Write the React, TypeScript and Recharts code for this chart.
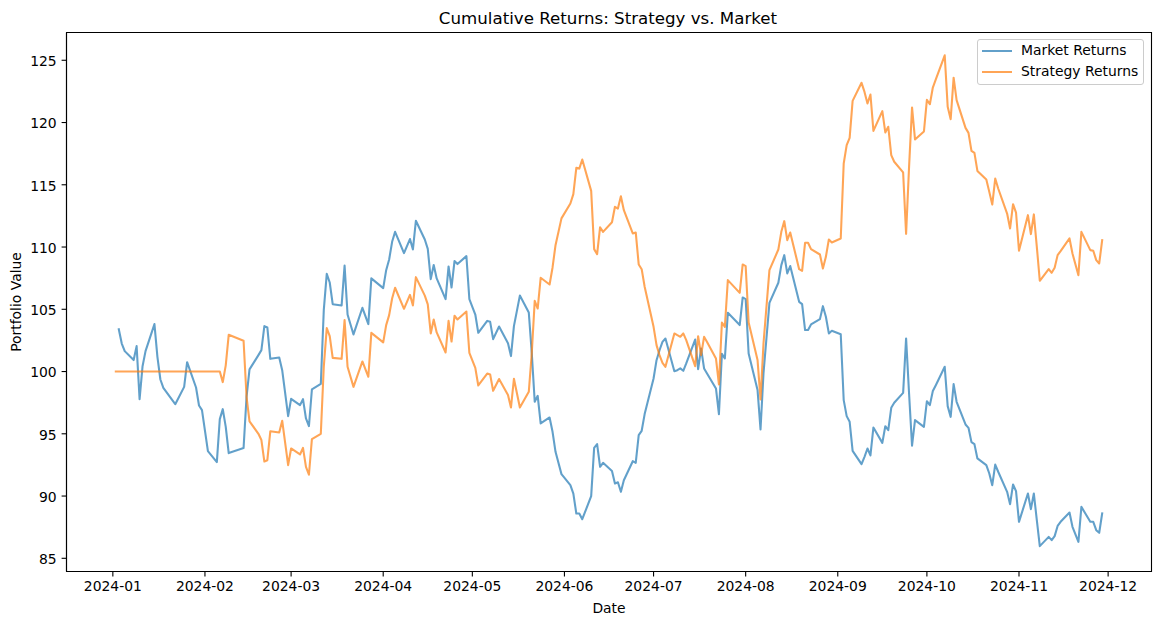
import { LineChart, Line, XAxis, YAxis, Legend, Label, ReferenceArea } from "recharts";

// days since 2024-01-01
const tradingDays = [
  1, 2, 3, 4, 7, 8, 9, 10, 11, 14,
  15, 16, 17, 21, 22, 24, 25, 28, 29, 30,
  32, 35, 36, 37, 38, 39, 44, 45, 46, 49,
  50, 51, 52, 53, 56, 57, 59, 60, 63, 64,
  65, 66, 67, 70, 71, 72, 73, 74, 77, 78,
  79, 81, 84, 86, 87, 91, 92, 93, 94, 95,
  98, 100, 101, 102, 105, 106, 107, 108, 109, 112,
  113, 114, 115, 116, 119, 120, 122, 123, 126, 127,
  128, 130, 133, 134, 135, 137, 140, 141, 142, 143,
  144, 147, 148, 149, 151, 154, 155, 156, 157, 158,
  161, 162, 163, 164, 165, 168, 169, 170, 171, 172,
  175, 176, 177, 178, 179, 182, 183, 184, 185, 186,
  189, 190, 191, 192, 193, 196, 197, 198, 199, 200,
  203, 204, 205, 206, 207, 211, 212, 213, 214, 217,
  218, 219, 221, 224, 225, 226, 227, 228, 231, 232,
  233, 234, 235, 238, 239, 240, 241, 242, 245, 246,
  247, 248, 249, 252, 253, 254, 255, 256, 259, 260,
  261, 262, 263, 266, 267, 268, 269, 270, 273, 274,
  275, 276, 277, 280, 281, 282, 283, 284, 287, 288,
  289, 290, 291, 294, 295, 296, 297, 298, 301, 302,
  303, 304, 305, 308, 309, 310, 311, 312, 315, 316,
  317, 318, 319, 322, 323, 325, 326, 329, 330, 331,
  332, 333,
];

const marketReturns = [
  null, 103.4, 102.25, 101.64, 100.92, 102.04, 97.78, 100.43, 101.64, 103.81,
  101.18, 99.36, 98.69, 97.38, 97.84, 98.77, 100.75, 98.72, 97.27, 96.9,
  93.61, 92.73, 96.18, 96.98, 95.56, 93.45, 93.85, 97.97, 100.17, 101.32,
  101.72, 103.65, 103.54, 101.02, 101.13, 100.11, 96.42, 97.81, 97.3, 97.78,
  96.23, 95.62, 98.56, 99.0, 104.93, 107.85, 107.15, 105.41, 105.31, 108.52,
  104.58, 102.98, 105.12, 103.81, 107.48, 106.7, 108.14, 109.0, 110.42, 111.22,
  109.51, 110.64, 109.81, 112.11, 110.6, 109.85, 107.42, 108.55, 107.48, 105.82,
  108.44, 106.75, 108.87, 108.63, 109.27, 105.82, 104.58, 103.11, 104.07, 103.99,
  102.6, 103.62, 102.28, 101.24, 103.65, 106.1, 104.74, 101.5, 97.57, 98.05,
  95.83, 96.31, 95.16, 93.55, 91.76, 90.87, 90.2, 88.6, 88.6, 88.14,
  89.99, 93.87, 94.17, 92.35, 92.67, 92.02, 91.0, 91.11, 90.34, 91.27,
  92.8, 92.67, 94.89, 95.24, 96.58, 99.44, 100.91, 101.71, 102.38, 102.65,
  100.03, 100.11, 100.25, 100.06, 100.65, 102.57, 100.19, 101.85, 100.25, 99.84,
  98.64, 96.58, 101.42, 101.05, 104.72, 103.73, 105.95, 105.82, 101.45, 98.51,
  95.35, 99.84, 105.52, 107.13, 108.55, 109.35, 107.88, 108.47, 105.6, 105.41,
  103.33, 103.33, 103.78, 104.21, 105.25, 104.4, 103.06, 103.27, 103.0, 97.7,
  96.42, 95.96, 93.63, 92.56, 93.15, 93.82, 93.26, 95.51, 94.27, 95.61,
  95.29, 97.09, 97.49, 98.29, 102.66, 98.24, 94.04, 96.1, 95.56, 97.62,
  97.3, 98.43, 98.9, 100.38, 97.22, 96.36, 98.99, 97.57, 95.75, 95.48,
  94.33, 94.17, 93.02, 92.48, 91.81, 90.87, 92.53, 91.95, 90.34, 89.35,
  90.93, 90.39, 87.93, 90.2, 88.95, 90.2, 88.07, 85.98, 86.72, 86.46,
  86.78, 87.6, 87.93, 88.68, 87.53, 86.32, 89.13, 87.93, 87.93, 87.26,
  87.05, 88.6,
];

const strategyReturns = [
  100, 100, 100, 100, 100, 100, 100, 100, 100, 100,
  100, 100, 100, 100, 100, 100, 100, 100, 100, 100,
  100, 100, 100, 99.15, 100.5, 102.95, 102.47, 97.97, 96.0, 95.0,
  94.5, 92.77, 92.88, 95.2, 95.1, 96.05, 92.48, 93.82, 93.34, 93.87,
  92.35, 91.71, 94.57, 95.0, 100.38, 103.49, 102.84, 101.1, 101.02, 104.13,
  100.38, 98.77, 100.81, 99.58, 103.11, 102.34, 103.73, 104.53, 105.87, 106.73,
  105.04, 106.16, 105.31, 107.58, 106.1, 105.39, 103.06, 104.18, 103.14, 101.53,
  104.07, 102.41, 104.48, 104.18, 104.82, 101.5, 100.3, 98.88, 99.84, 99.76,
  98.45, 99.4, 98.12, 97.11, 99.42, 97.11, 98.37, 101.45, 105.68, 105.06,
  107.53, 106.99, 108.36, 110.15, 112.3, 113.5, 114.25, 116.36, 116.3, 117.03,
  114.51, 109.83, 109.43, 111.59, 111.22, 111.99, 113.23, 113.09, 114.08, 112.96,
  111.09, 111.17, 108.6, 108.22, 106.81, 103.59, 102.12, 101.32, 100.7, 100.38,
  103.06, 102.92, 102.79, 103.06, 102.52, 100.43, 102.84, 101.32, 102.79, 102.38,
  101.05, 98.97, 103.94, 103.59, 107.34, 106.32, 108.6, 108.47, 103.94, 100.92,
  97.76, 102.25, 108.14, 109.8, 111.22, 112.08, 110.55, 111.17, 108.22, 108.09,
  110.34, 110.34, 109.83, 109.4, 108.28, 109.21, 110.61, 110.37, 110.68, 116.71,
  118.18, 118.77, 121.74, 123.19, 122.46, 121.53, 122.25, 119.33, 120.91, 119.2,
  119.66, 117.38, 116.85, 115.99, 111.06, 116.44, 121.21, 118.64, 119.28, 121.82,
  121.47, 122.81, 123.46, 125.4, 121.26, 120.27, 123.6, 121.8, 119.57, 119.17,
  117.72, 117.56, 116.11, 115.42, 114.43, 113.41, 115.5, 114.7, 112.69, 111.49,
  113.44, 112.77, 109.7, 112.56, 111.04, 112.62, 110.02, 107.29, 108.23, 107.93,
  108.33, 109.35, 109.67, 110.69, 109.48, 107.74, 111.22, 109.75, 109.7, 108.95,
  108.68, 110.55,
];

const monthTicks = [0, 31, 60, 91, 121, 152, 182, 213, 244, 274, 305, 335];
const monthLabels = [
  "2024-01", "2024-02", "2024-03", "2024-04", "2024-05", "2024-06",
  "2024-07", "2024-08", "2024-09", "2024-10", "2024-11", "2024-12",
];
const valueTicks = [85, 90, 95, 100, 105, 110, 115, 120, 125];

const xDomain = [-15.6, 349.6];
const yDomain = [83.94, 127.23];

const FONT = "DejaVu Sans";

const data = tradingDays.map((day, i) => ({
  day,
  market: marketReturns[i],
  strategy: strategyReturns[i],
}));

const tickStyle = { fill: "#000", fontSize: 13.9, fontFamily: FONT };

const LegendBox = ({ payload }: any) => (
  <div
    style={{
      boxSizing: "border-box",
      width: 167,
      height: 46,
      padding: "1px 0 0 4px",
      border: "1px solid #ccc",
      borderRadius: 3,
      background: "rgba(255,255,255,0.8)",
      fontFamily: FONT,
      fontSize: 13.9,
      color: "#000",
    }}
  >
    {(payload || []).map((item: any) => (
      <div key={item.value} style={{ display: "flex", alignItems: "center", height: 20.5 }}>
        <span
          style={{
            display: "inline-block",
            width: 30,
            height: 2,
            marginRight: 9,
            background: item.color,
            opacity: 0.7,
          }}
        />
        <span style={{ position: "relative", top: -1 }}>{item.value}</span>
      </div>
    ))}
  </div>
);

const App = () => {
  return (
    <div style={{ position: "absolute", left: 0, top: 0, width: 1160, height: 624 }}>
      <LineChart
        width={1160}
        height={624}
        data={data}
        margin={{ top: 32.5, right: 8.5, bottom: 0, left: 0 }}
      >
        <text
          x={608}
          y={24}
          textAnchor="middle"
          style={{ fontFamily: FONT, fontSize: 16.67, fill: "#000" }}
        >
          Cumulative Returns: Strategy vs. Market
        </text>
        <XAxis
          type="number"
          dataKey="day"
          domain={xDomain}
          ticks={monthTicks}
          interval={0}
          height={52.5}
          tickSize={4.9}
          tickMargin={4.9}
          tick={tickStyle}
          tickFormatter={(v: number) => monthLabels[monthTicks.indexOf(v)]}
          tickLine={{ stroke: "#000", strokeWidth: 1.1 }}
          axisLine={{ stroke: "#000", strokeWidth: 1.1 }}
        >
          <Label
            value="Date"
            position="insideBottom"
            offset={11}
            style={{ fontFamily: FONT, fontSize: 13.9, fill: "#000" }}
          />
        </XAxis>
        <YAxis
          type="number"
          domain={yDomain}
          ticks={valueTicks}
          interval={0}
          width={66.5}
          tickSize={4.9}
          tickMargin={4.9}
          tick={{ ...tickStyle, dy: 1 }}
          tickLine={{ stroke: "#000", strokeWidth: 1.1 }}
          axisLine={{ stroke: "#000", strokeWidth: 1.1 }}
        >
          <Label
            value="Portfolio Value"
            angle={-90}
            position="insideLeft"
            offset={16}
            style={{ textAnchor: "middle", fontFamily: FONT, fontSize: 13.9, fill: "#000" }}
          />
        </YAxis>
        <ReferenceArea
          x1={xDomain[0]}
          x2={xDomain[1]}
          y1={yDomain[0]}
          y2={yDomain[1]}
          fill="none"
          stroke="#000"
          strokeWidth={1.1}
        />
        <Line
          type="linear"
          dataKey="market"
          name="Market Returns"
          stroke="#1f77b4"
          strokeOpacity={0.7}
          strokeWidth={2.08}
          strokeLinecap="square"
          strokeLinejoin="round"
          dot={false}
          isAnimationActive={false}
        />
        <Line
          type="linear"
          dataKey="strategy"
          name="Strategy Returns"
          stroke="#ff7f0e"
          strokeOpacity={0.7}
          strokeWidth={2.08}
          strokeLinecap="square"
          strokeLinejoin="round"
          dot={false}
          isAnimationActive={false}
        />
        <Legend
          layout="vertical"
          verticalAlign="middle"
          align="center"
          content={<LegendBox />}
          wrapperStyle={{ position: "absolute", left: 977, top: 39, width: 167, height: 46 }}
        />
      </LineChart>
    </div>
  );
};

export default App;
